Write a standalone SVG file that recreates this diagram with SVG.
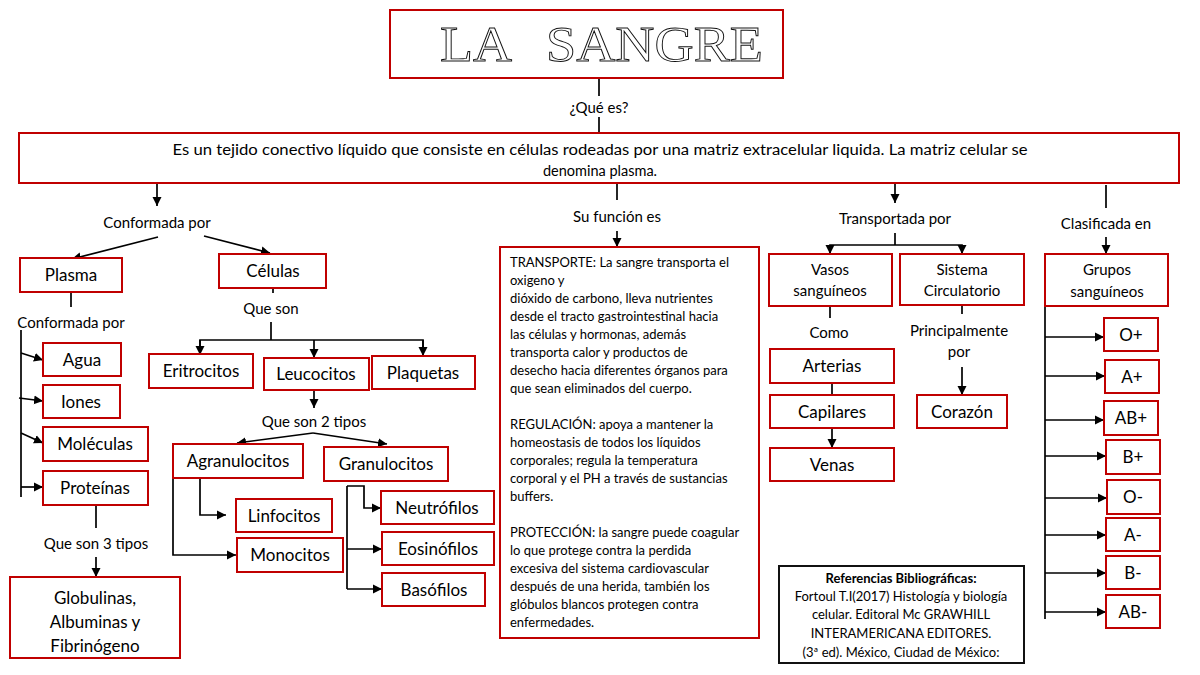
<svg xmlns="http://www.w3.org/2000/svg" width="1200" height="675" viewBox="0 0 1200 675">
<defs>
<marker id="ah" markerUnits="userSpaceOnUse" markerWidth="10" markerHeight="10" refX="9" refY="5" orient="auto">
<path d="M0,0.5 L9,5 L0,9.5 Z" fill="#000"/>
</marker>
<style>
.b{fill:#fff;stroke:#c00000;stroke-width:2}
.k{fill:#fff;stroke:#111;stroke-width:2}
.t{font-family:Lato,"Liberation Sans",sans-serif;font-size:17px;fill:#000;text-anchor:middle}
.l{font-family:Lato,"Liberation Sans",sans-serif;font-size:15px;fill:#000;text-anchor:middle}
.p{font-family:Lato,"Liberation Sans",sans-serif;font-size:13px;fill:#000}
.r{font-family:Lato,"Liberation Sans",sans-serif;font-size:13px;fill:#000;text-anchor:middle}
.c line,.c polyline{stroke:#000;stroke-width:1.7;fill:none}
.c .a{marker-end:url(#ah)}
.title{font-family:"Liberation Serif","DejaVu Serif",serif;font-size:50px;fill:#fff;stroke:#111;stroke-width:0.9}
</style>
</defs>
<rect width="1200" height="675" fill="#fff"/>

<g id="connectors" class="c">
<line x1="599" y1="78" x2="599" y2="96"/>
<line x1="599" y1="117" x2="599" y2="133"/>
<line class="a" x1="157" y1="183" x2="157" y2="206"/>
<line x1="617" y1="183" x2="617" y2="200"/>
<line class="a" x1="617" y1="231" x2="617" y2="247"/>
<line class="a" x1="895" y1="183" x2="895" y2="203"/>
<line x1="895" y1="233" x2="895" y2="245"/>
<polyline points="830,253 830,245 962,245 962,253"/>
<line class="a" x1="830" y1="245" x2="830" y2="254"/>
<line class="a" x1="962" y1="245" x2="962" y2="254"/>
<line x1="1106" y1="185" x2="1106" y2="208"/>
<line class="a" x1="1106" y1="237" x2="1106" y2="254"/>
<line class="a" x1="158" y1="237" x2="72" y2="259"/>
<line class="a" x1="204" y1="236" x2="270" y2="253"/>
<line x1="71" y1="292" x2="71" y2="307"/>
<line x1="21" y1="330" x2="21" y2="497"/>
<line class="a" x1="21" y1="353" x2="43" y2="360"/>
<line class="a" x1="19" y1="398" x2="43" y2="401"/>
<line class="a" x1="21" y1="433" x2="43" y2="443"/>
<line class="a" x1="21" y1="487" x2="43" y2="487"/>
<line x1="96" y1="504" x2="96" y2="528"/>
<line class="a" x1="96" y1="557" x2="96" y2="577"/>
<line x1="273" y1="288" x2="273" y2="293"/>
<line x1="271" y1="322" x2="271" y2="340"/>
<polyline points="200,350 200,340 423,340 423,350"/>
<line class="a" x1="200" y1="340" x2="200" y2="355"/>
<line class="a" x1="314" y1="340" x2="314" y2="358"/>
<line class="a" x1="423" y1="340" x2="423" y2="356"/>
<line class="a" x1="314" y1="390" x2="314" y2="408"/>
<line class="a" x1="313" y1="433" x2="237" y2="443"/>
<line class="a" x1="313" y1="433" x2="387" y2="444"/>
<polyline class="a" points="173,477 173,555 236,555"/>
<polyline class="a" points="200,477 200,515 226,515"/>
<line x1="347" y1="486" x2="347" y2="589"/>
<polyline class="a" points="347,486 364,486 364,508 381,508"/>
<line class="a" x1="347" y1="549" x2="382" y2="549"/>
<line class="a" x1="347" y1="589" x2="382" y2="589"/>
<line x1="830" y1="306" x2="830" y2="318"/>
<line x1="832" y1="383" x2="832" y2="395"/>
<line class="a" x1="832" y1="428" x2="832" y2="448"/>
<line x1="962" y1="305" x2="962" y2="314"/>
<line class="a" x1="962" y1="367" x2="962" y2="395"/>
<line x1="1045" y1="306" x2="1045" y2="619"/>
<line class="a" x1="1045" y1="337" x2="1104" y2="337"/>
<line class="a" x1="1045" y1="376" x2="1105" y2="376"/>
<line class="a" x1="1045" y1="420" x2="1104" y2="420"/>
<line class="a" x1="1045" y1="456" x2="1106" y2="456"/>
<line class="a" x1="1045" y1="498" x2="1107" y2="498"/>
<line class="a" x1="1045" y1="535" x2="1106" y2="535"/>
<line class="a" x1="1045" y1="573" x2="1106" y2="573"/>
<line class="a" x1="1045" y1="612" x2="1106" y2="612"/>
</g>

<g id="labels">
<text class="l" x="599" y="113">¿Qué es?</text>
<text class="l" x="157" y="228">Conformada por</text>
<text class="l" x="617" y="222">Su función es</text>
<text class="l" x="895" y="224">Transportada por</text>
<text class="l" x="1106" y="229">Clasificada en</text>
<text class="l" x="71" y="328">Conformada por</text>
<text class="l" x="96" y="549">Que son 3 tipos</text>
<text class="l" x="271" y="314">Que son</text>
<text class="l" x="314" y="427">Que son 2 tipos</text>
<text class="l" x="829" y="338">Como</text>
<text class="l" x="959" y="336">Principalmente</text>
<text class="l" x="959" y="357">por</text>
</g>

<g id="title">
<rect class="b" x="390" y="10" width="393" height="68"/>
<text class="title" x="440" y="61" textLength="72" lengthAdjust="spacingAndGlyphs">LA</text>
<text class="title" x="546" y="61" textLength="217" lengthAdjust="spacingAndGlyphs">SANGRE</text>
</g>

<g id="definicion">
<rect class="b" x="19" y="133" width="1160" height="50"/>
<text class="l" x="600" y="155" style="font-size:14.5px" textLength="855" lengthAdjust="spacingAndGlyphs">Es un tejido conectivo  líquido que consiste en  células rodeadas por una  matriz extracelular liquida. La matriz celular se</text>
<text class="l" x="600" y="176" style="font-size:14.5px">denomina plasma.</text>
</g>

<g id="plasma"><rect class="b" x="20" y="258" width="102" height="34"/><text class="t" x="71" y="281">Plasma</text></g>
<g id="celulas"><rect class="b" x="219" y="254" width="107" height="34"/><text class="t" x="273" y="277">Células</text></g>
<g id="agua"><rect class="b" x="43" y="343" width="78" height="33"/><text class="t" x="82" y="366">Agua</text></g>
<g id="iones"><rect class="b" x="43" y="385" width="77" height="33"/><text class="t" x="81" y="408">Iones</text></g>
<g id="moleculas"><rect class="b" x="43" y="427" width="105" height="34"/><text class="t" x="95" y="450">Moléculas</text></g>
<g id="proteinas"><rect class="b" x="43" y="471" width="105" height="34"/><text class="t" x="95" y="494">Proteínas</text></g>
<g id="globulinas"><rect class="b" x="10" y="577" width="170" height="81"/>
<text class="t" x="95" y="604">Globulinas,</text>
<text class="t" x="95" y="628">Albuminas y</text>
<text class="t" x="95" y="652">Fibrinógeno</text></g>

<g id="eritrocitos"><rect class="b" x="149" y="354" width="104" height="34"/><text class="t" x="201" y="377">Eritrocitos</text></g>
<g id="leucocitos"><rect class="b" x="264" y="358" width="105" height="32"/><text class="t" x="316" y="380">Leucocitos</text></g>
<g id="plaquetas"><rect class="b" x="372" y="356" width="103" height="33"/><text class="t" x="423" y="379">Plaquetas</text></g>
<g id="agranulocitos"><rect class="b" x="173" y="444" width="130" height="34"/><text class="t" x="238" y="467">Agranulocitos</text></g>
<g id="granulocitos"><rect class="b" x="324" y="447" width="124" height="34"/><text class="t" x="386" y="470">Granulocitos</text></g>
<g id="linfocitos"><rect class="b" x="236" y="499" width="96" height="33"/><text class="t" x="284" y="522">Linfocitos</text></g>
<g id="monocitos"><rect class="b" x="237" y="538" width="106" height="34"/><text class="t" x="290" y="561">Monocitos</text></g>
<g id="neutrofilos"><rect class="b" x="381" y="491" width="113" height="33"/><text class="t" x="437" y="514">Neutrófilos</text></g>
<g id="eosinofilos"><rect class="b" x="382" y="532" width="112" height="33"/><text class="t" x="438" y="555">Eosinófilos</text></g>
<g id="basofilos"><rect class="b" x="382" y="573" width="103" height="33"/><text class="t" x="434" y="596">Basófilos</text></g>

<g id="funcion"><rect class="b" x="500" y="247" width="259" height="391"/>
<text class="p" x="510">
<tspan x="510" y="267">TRANSPORTE: La sangre transporta el</tspan>
<tspan x="510" y="285">oxigeno y</tspan>
<tspan x="510" y="303">dióxido de carbono, lleva nutrientes</tspan>
<tspan x="510" y="321">desde el tracto  gastrointestinal hacia</tspan>
<tspan x="510" y="339">las células y hormonas, además</tspan>
<tspan x="510" y="357">transporta calor y productos de</tspan>
<tspan x="510" y="375">desecho hacia  diferentes órganos para</tspan>
<tspan x="510" y="393">que sean eliminados del cuerpo.</tspan>
<tspan x="510" y="429">REGULACIÓN: apoya a mantener la</tspan>
<tspan x="510" y="447">homeostasis de  todos los líquidos</tspan>
<tspan x="510" y="465">corporales; regula la temperatura</tspan>
<tspan x="510" y="483">corporal y el PH a través de sustancias</tspan>
<tspan x="510" y="501">buffers.</tspan>
<tspan x="510" y="537">PROTECCIÓN: la sangre puede coagular</tspan>
<tspan x="510" y="555">lo que  protege contra la perdida</tspan>
<tspan x="510" y="573">excesiva del sistema   cardiovascular</tspan>
<tspan x="510" y="591">después de una herida, también los</tspan>
<tspan x="510" y="609">glóbulos blancos protegen contra</tspan>
<tspan x="510" y="627">enfermedades.</tspan>
</text></g>

<g id="vasos"><rect class="b" x="769" y="254" width="123" height="52"/><text class="l" x="830" y="275">Vasos</text><text class="l" x="830" y="296">sanguíneos</text></g>
<g id="sistema"><rect class="b" x="900" y="254" width="124" height="51"/><text class="l" x="962" y="275">Sistema</text><text class="l" x="962" y="296">Circulatorio</text></g>
<g id="arterias"><rect class="b" x="770" y="349" width="124" height="34"/><text class="t" x="832" y="372">Arterias</text></g>
<g id="capilares"><rect class="b" x="770" y="395" width="124" height="33"/><text class="t" x="832" y="418">Capilares</text></g>
<g id="venas"><rect class="b" x="770" y="448" width="124" height="33"/><text class="t" x="832" y="471">Venas</text></g>
<g id="corazon"><rect class="b" x="917" y="395" width="90" height="33"/><text class="t" x="962" y="418">Corazón</text></g>

<g id="referencias"><rect class="k" x="779" y="566" width="245" height="97"/>
<text class="r" x="901" y="583" font-weight="bold">Referencias Bibliográficas:</text>
<text class="r" x="901" y="601">Fortoul T.I(2017) Histología y biología</text>
<text class="r" x="901" y="619">celular. Editoral Mc GRAWHILL</text>
<text class="r" x="901" y="638">INTERAMERICANA EDITORES.</text>
<text class="r" x="901" y="657">(3ª ed). México, Ciudad de México:</text>
</g>

<g id="grupos"><rect class="b" x="1045" y="254" width="123" height="52"/><text class="l" x="1107" y="275">Grupos</text><text class="l" x="1107" y="297">sanguíneos</text></g>
<g id="o-pos"><rect class="b" x="1104" y="318" width="54" height="33"/><text class="t" x="1131" y="341">O+</text></g>
<g id="a-pos"><rect class="b" x="1105" y="360" width="54" height="33"/><text class="t" x="1132" y="383">A+</text></g>
<g id="ab-pos"><rect class="b" x="1104" y="401" width="54" height="34"/><text class="t" x="1131" y="424">AB+</text></g>
<g id="b-pos"><rect class="b" x="1106" y="440" width="54" height="34"/><text class="t" x="1133" y="463">B+</text></g>
<g id="o-neg"><rect class="b" x="1107" y="480" width="53" height="34"/><text class="t" x="1133" y="503">O-</text></g>
<g id="a-neg"><rect class="b" x="1106" y="518" width="54" height="33"/><text class="t" x="1133" y="541">A-</text></g>
<g id="b-neg"><rect class="b" x="1106" y="556" width="54" height="33"/><text class="t" x="1133" y="579">B-</text></g>
<g id="ab-neg"><rect class="b" x="1106" y="595" width="54" height="33"/><text class="t" x="1133" y="618">AB-</text></g>
</svg>
